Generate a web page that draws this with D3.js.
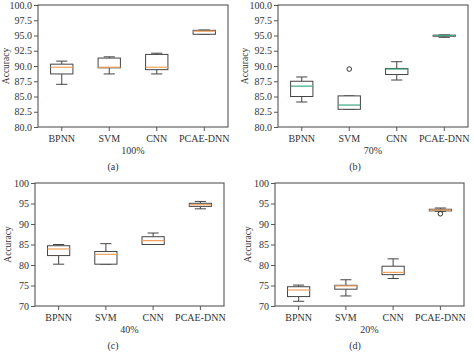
<!DOCTYPE html>
<html>
<head>
<meta charset="utf-8">
<script src="https://cdn.jsdelivr.net/npm/d3@7"></script>
<style>
  body { margin: 0; background: #fff; }
  svg text { font-family: "Liberation Serif", "Times New Roman", serif; fill: #333; }
</style>
</head>
<body>
<svg id="chart" width="474" height="364"></svg>
<script>
// categories shared by all four panels
const categories = ["BPNN", "SVM", "CNN", "PCAE-DNN"];

// [min, q1, median, q3, max] per category
const stats100 = [
    [87.0, 88.7, 89.8, 90.3, 90.8],
    [88.7, 89.7, 89.8, 91.3, 91.5],
    [88.7, 89.4, 89.8, 91.9, 92.1],
    [95.2, 95.2, 95.7, 95.85, 95.9]
];
const stats70 = [
    [84.1, 85.0, 86.7, 87.5, 88.2],
    [82.9, 82.9, 83.6, 85.1, 85.1],
    [87.7, 88.6, 89.5, 89.6, 90.7],
    [94.7, 94.9, 95.0, 95.05, 95.1]
];
const stats40 = [
    [80.2, 82.3, 83.9, 84.7, 85.0],
    [80.2, 80.2, 82.6, 83.3, 85.2],
    [85.0, 85.0, 85.95, 86.9, 87.8],
    [93.7, 94.3, 94.7, 95.05, 95.5]
];
const stats20 = [
    [71.15, 72.3, 73.9, 74.7, 75.1],
    [72.45, 74.1, 74.9, 75.05, 76.4],
    [76.7, 77.65, 78.2, 79.7, 81.5],
    [93.1, 93.2, 93.4, 93.6, 93.9]
];

// outliers: [category index, value]
const outliers100 = [];
const outliers70 = [[1, 89.5]];
const outliers40 = [];
const outliers20 = [[3, 92.5]];

const ticksAB = [80, 82.5, 85, 87.5, 90, 92.5, 95, 97.5, 100];
const ticksCD = [70, 75, 80, 85, 90, 95, 100];

const panels = [
    { stats: stats100, outliers: outliers100, xlabel: "100%", caption: "(a)", left: 38, right: 228, top: 5, bottom: 127,
      domain: [80, 100], ticks: ticksAB, fmt: d3.format(".1f"), median: "#f2a25c", capX: 113, ylabX: 6 },
    { stats: stats70, outliers: outliers70, xlabel: "70%", caption: "(b)", left: 278, right: 468, top: 5, bottom: 127,
      domain: [80, 100], ticks: ticksAB, fmt: d3.format(".1f"), median: "#3ea77f", capX: 355, ylabX: 245 },
    { stats: stats40, outliers: outliers40, xlabel: "40%", caption: "(c)", left: 35, right: 224, top: 183, bottom: 306,
      domain: [70, 100], ticks: ticksCD, fmt: d3.format("d"), median: "#f2a25c", capX: 113, ylabX: 8 },
    { stats: stats20, outliers: outliers20, xlabel: "20%", caption: "(d)", left: 275, right: 464, top: 183, bottom: 306,
      domain: [70, 100], ticks: ticksCD, fmt: d3.format("d"), median: "#f2a25c", capX: 355, ylabX: 248 }
];

const svg = d3.select("#chart");

panels.forEach(p => {
    const g = svg.append("g");
    const x = d3.scaleBand().domain(categories).range([p.left, p.right]).padding(0);
    const y = d3.scaleLinear().domain(p.domain).range([p.bottom, p.top]);
    const boxW = x.bandwidth() * 0.47;
    const capW = boxW * 0.5;

    // axes
    const yAxis = g.append("g")
        .attr("transform", `translate(${p.left},0)`)
        .call(d3.axisLeft(y).tickValues(p.ticks).tickFormat(p.fmt).tickSize(4).tickPadding(2));
    const xAxis = g.append("g")
        .attr("transform", `translate(0,${p.bottom})`)
        .call(d3.axisBottom(x).tickSize(4).tickPadding(4));
    [yAxis, xAxis].forEach(a => {
        a.select(".domain").remove();
        a.selectAll(".tick line").attr("stroke", "#555");
        a.selectAll(".tick text").style("font-size", "10px").attr("fill", "#333");
    });

    // frame
    g.append("rect")
        .attr("x", p.left).attr("y", y(p.domain[1]))
        .attr("width", p.right - p.left).attr("height", p.bottom - y(p.domain[1]))
        .attr("fill", "none").attr("stroke", "#555").attr("stroke-width", 1.1);

    const box = g.selectAll(".box").data(p.stats).enter().append("g");
    const cx = (d, i) => x(categories[i]) + x.bandwidth() / 2;

    // whiskers
    box.append("line").attr("x1", cx).attr("x2", cx)
        .attr("y1", d => y(d[0])).attr("y2", d => y(d[1])).attr("stroke", "#444");
    box.append("line").attr("x1", cx).attr("x2", cx)
        .attr("y1", d => y(d[3])).attr("y2", d => y(d[4])).attr("stroke", "#444");
    box.append("line").attr("x1", (d, i) => cx(d, i) - capW / 2).attr("x2", (d, i) => cx(d, i) + capW / 2)
        .attr("y1", d => y(d[0])).attr("y2", d => y(d[0])).attr("stroke", "#444");
    box.append("line").attr("x1", (d, i) => cx(d, i) - capW / 2).attr("x2", (d, i) => cx(d, i) + capW / 2)
        .attr("y1", d => y(d[4])).attr("y2", d => y(d[4])).attr("stroke", "#444");
    // box
    box.append("rect")
        .attr("x", (d, i) => cx(d, i) - boxW / 2).attr("width", boxW)
        .attr("y", d => y(d[3])).attr("height", d => Math.max(1, y(d[1]) - y(d[3])))
        .attr("fill", "#fff").attr("stroke", "#444");
    // median
    box.append("line").attr("x1", (d, i) => cx(d, i) - boxW / 2).attr("x2", (d, i) => cx(d, i) + boxW / 2)
        .attr("y1", d => y(d[2])).attr("y2", d => y(d[2])).attr("stroke", p.median).attr("stroke-width", 1.2);

    // outliers
    g.selectAll(".out").data(p.outliers).enter().append("circle")
        .attr("cx", d => x(categories[d[0]]) + x.bandwidth() / 2)
        .attr("cy", d => y(d[1])).attr("r", 2.3)
        .attr("fill", "none").attr("stroke", "#333");

    // labels
    g.append("text").attr("x", (p.left + p.right) / 2).attr("y", p.bottom + 27)
        .attr("text-anchor", "middle").style("font-size", "10px").text(p.xlabel);
    g.append("text").attr("x", p.capX).attr("y", p.bottom + 43)
        .attr("text-anchor", "middle").style("font-size", "10px").text(p.caption);
    g.append("text")
        .attr("transform", `translate(${p.ylabX},${(p.top + p.bottom) / 2}) rotate(-90)`)
        .attr("dy", "0.35em").attr("text-anchor", "middle").style("font-size", "9.5px").text("Accuracy");
});
</script>
</body>
</html>
